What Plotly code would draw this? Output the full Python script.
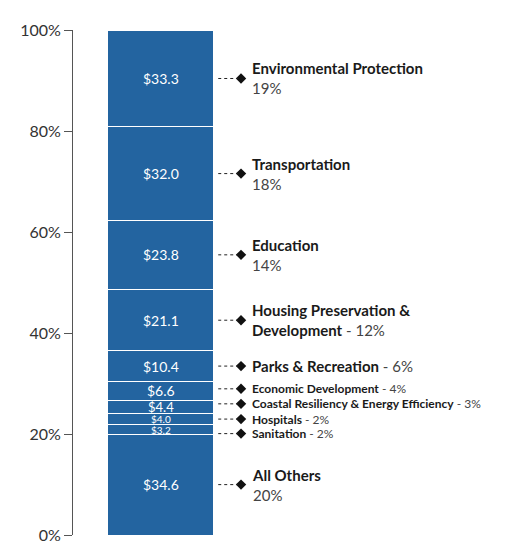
import numpy as np
import plotly.graph_objects as go

# bottom to top of the stack
categories = ["All Others", "Sanitation", "Hospitals", "Coastal Resiliency & Energy Efficiency",
              "Economic Development", "Parks & Recreation", "Housing Preservation &<br>Development",
              "Education", "Transportation", "Environmental Protection"]
values = [34.6, 3.2, 4.0, 4.4, 6.6, 10.4, 21.1, 23.8, 32.0, 33.3]
shares = ["20%", "2%", "2%", "3%", "4%", "6%", "12%", "14%", "18%", "19%"]
two_line = [True, False, False, False, False, False, True, True, True, True]
big = [True, False, False, False, False, True, True, True, True, True]

BLUE = "#2364a0"
vals = np.array(values)
pct = vals / vals.sum() * 100
mids = np.cumsum(pct) - pct / 2
# spread the crowded small labels a little
nudge = [0, -0.8, 0, 0.6, 0.4, 0, 0, 0, 0, 0]

fig = go.Figure()
for name, v in zip(categories, values):
    fig.add_trace(go.Bar(x=[0], y=[v], width=1, name=name, marker_color=BLUE,
                         marker_line=dict(color="white", width=1), hoverinfo="skip"))

for i, name in enumerate(categories):
    # value inside the bar
    fs = 14 if values[i] > 6 else (13 if values[i] > 4.2 else 10)
    fig.add_annotation(x=0, y=mids[i], text="$%.1f" % values[i], showarrow=False,
                       font=dict(color="white", size=fs, family="Lato"))
    ly = mids[i] + nudge[i]
    # dotted leader + diamond
    fig.add_shape(type="line", x0=0.54, x1=0.73, y0=ly, y1=ly,
                  line=dict(color="#222", width=1, dash="dot"))
    fig.add_trace(go.Scatter(x=[0.755], y=[ly], mode="markers", hoverinfo="skip",
                             marker=dict(symbol="diamond", size=8, color="#111")))
    size = 15 if big[i] else 12
    if two_line[i] and "<br>" not in name:
        txt = "<b>%s</b><br><span style='color:#444'>%s</span>" % (name, shares[i])
    else:
        txt = "<b>%s</b><span style='color:#444'> - %s</span>" % (name, shares[i])
    fig.add_annotation(x=0.84, y=ly, text=txt, showarrow=False, xanchor="left",
                       yanchor="middle", align="left",
                       font=dict(color="#1a1a1a", size=size, family="Lato"))

fig.update_layout(
    barmode="stack", barnorm="percent", showlegend=False,
    width=515, height=549, margin=dict(l=65, r=0, t=22, b=22, autoexpand=False),
    paper_bgcolor="white", plot_bgcolor="white",
    xaxis=dict(range=[-0.83, 3.415], visible=False),
    yaxis=dict(range=[0, 100], tickvals=[0, 20, 40, 60, 80, 100],
               ticktext=["0%", "20%", "40%", "60%", "80%", "100%"],
               showgrid=False, zeroline=False, showline=True, linecolor="#555",
               ticks="outside", ticklen=8, tickcolor="#555", automargin=False,
               tickfont=dict(size=16, color="#333", family="Lato")),
)
fig.write_html("out.html")
